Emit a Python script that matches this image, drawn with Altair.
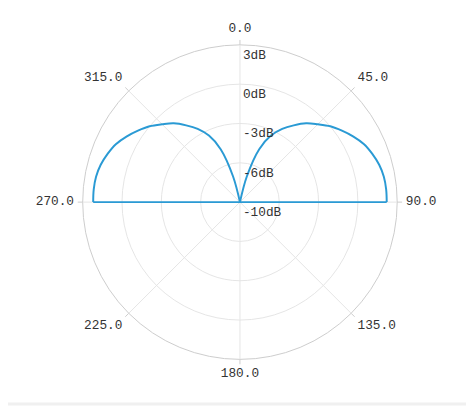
import altair as alt
import pandas as pd

# Radiation pattern (angle in degrees, gain in dB; -10 dB = centre of plot)
angle_deg = [12, 15, 20, 25, 30, 35, 40, 45, 50, 55, 60, 65, 70, 75, 80, 85, 90,
             180,
             270, 275, 280, 285, 290, 295, 300, 305, 310, 315, 320, 325, 330, 335, 340, 345,
             348]
gain_db = [-10, -7.3, -4.7, -3.4, -2.55, -1.85, -1.15, -0.6, 0.0, 0.5,
           1.0, 1.45, 1.75, 2.0, 2.15, 2.2, 2.2,
           -10,
           2.2, 2.2, 2.15, 2.0, 1.75, 1.45, 1.0, 0.5, 0.0, -0.6, -1.15, -1.85, -2.55,
           -3.4, -4.7, -7.3,
           -10]

ring_db = [-10, -6, -3, 0, 3]
ring_labels = ["-10dB", "-6dB", "-3dB", "0dB", "3dB"]
spoke_deg = [0, 45, 90, 135, 180, 225, 270, 315]
spoke_labels = ["0.0", "45.0", "90.0", "135.0", "180.0", "225.0", "270.0", "315.0"]

LEVEL = "(datum.db <= -6 ? max(datum.db + 10, 0) / 4 : (datum.db + 6) / 3 + 1)"
FONT = "Liberation Mono"
TXT = "#333333"
GRID = "#e4e4e4"
AXIS = "#cccccc"
LINE = "#2a9ad4"

dom = alt.Scale(domain=[-4, 4], nice=False, zero=False)


def X(f):
    return alt.X(f, type="quantitative", scale=dom, axis=None)


def Y(f):
    return alt.Y(f, type="quantitative", scale=dom, axis=None)


band = alt.Chart(pd.DataFrame({"k": [0]})).mark_rect(color="#f0f0f0").encode(
    x=alt.value(-76), x2=alt.value(390), y=alt.value(364), y2=alt.value(367)
)

ring_df = pd.DataFrame({"db": ring_db[1:]})
rings = (
    alt.Chart(ring_df)
    .transform_calculate(lvl=LEVEL)
    .transform_calculate(zero="0", area="pow(2 * datum.lvl * 40, 2)")
    .mark_point(shape="circle", filled=False, strokeWidth=1, opacity=1)
    .encode(
        x=X("zero"),
        y=Y("zero"),
        size=alt.Size("area:Q", scale=None, legend=None),
        stroke=alt.condition("datum.lvl >= 4", alt.value(AXIS), alt.value(GRID)),
    )
)

spoke_df = pd.DataFrame({"angle": spoke_deg, "label": spoke_labels})
spokes = (
    alt.Chart(spoke_df)
    .transform_calculate(
        zero="0",
        ex="4 * sin(datum.angle * PI / 180)",
        ey="4 * cos(datum.angle * PI / 180)",
    )
    .mark_rule(color=GRID, strokeWidth=1)
    .encode(x=X("zero"), y=Y("zero"), x2=alt.X2("ex:Q"), y2=alt.Y2("ey:Q"))
)

ticks = (
    alt.Chart(spoke_df)
    .transform_calculate(
        ax="4 * sin(datum.angle * PI / 180)",
        ay="4 * cos(datum.angle * PI / 180)",
        bx="4.125 * sin(datum.angle * PI / 180)",
        by="4.125 * cos(datum.angle * PI / 180)",
    )
    .mark_rule(color=AXIS, strokeWidth=1)
    .encode(x=X("ax"), y=Y("ay"), x2=alt.X2("bx:Q"), y2=alt.Y2("by:Q"))
)

curve_df = pd.DataFrame({"i": list(range(len(angle_deg))), "angle": angle_deg, "db": gain_db})
curve_base = (
    alt.Chart(curve_df)
    .transform_calculate(lvl=LEVEL)
    .transform_calculate(
        px="datum.lvl * sin(datum.angle * PI / 180)",
        py="datum.lvl * cos(datum.angle * PI / 180)",
        lobe="datum.angle <= 90 ? 'R' : (datum.angle >= 270 ? 'L' : 'C')",
    )
)
lobes = (
    curve_base.transform_filter("datum.lobe != 'C'")
    .mark_line(color=LINE, strokeWidth=2, interpolate="catmull-rom")
    .encode(x=X("px"), y=Y("py"), order=alt.Order("i:Q"), detail="lobe:N")
)
straight = (
    curve_base.transform_filter("datum.angle == 90 || datum.angle == 180 || datum.angle == 270")
    .mark_line(color=LINE, strokeWidth=2)
    .encode(x=X("px"), y=Y("py"), order=alt.Order("i:Q"))
)

angle_text = (
    alt.Chart(spoke_df)
    .transform_calculate(
        s="sin(datum.angle * PI / 180)",
        c="cos(datum.angle * PI / 180)",
    )
    .transform_calculate(
        sx="abs(datum.s) < 1e-6 ? 0 : (datum.s > 0 ? 1 : -1)",
        sy="abs(datum.c) < 1e-6 ? 0 : (datum.c > 0 ? 1 : -1)",
    )
    .transform_calculate(
        lx="4.2 * datum.s + datum.sx * (length(datum.label) * 0.0975 + 0.02)",
        ly="4.2 * datum.c + datum.sy * 0.19 + 0.03",
    )
    .mark_text(font=FONT, fontSize=13, color=TXT, align="center", baseline="middle")
    .encode(x=X("lx"), y=Y("ly"), text="label:N")
)

radial_df = pd.DataFrame({"db": ring_db, "label": ring_labels})
radial_text = (
    alt.Chart(radial_df)
    .transform_calculate(lvl=LEVEL, zero="0")
    .mark_text(font=FONT, fontSize=13, color=TXT, align="left", baseline="middle", dx=3, dy=10)
    .encode(x=X("zero"), y=Y("lvl"), text="label:N")
)

chart = (
    alt.layer(band, rings, spokes, ticks, straight, lobes, angle_text, radial_text)
    .properties(
        width=320,
        height=320,
        padding={"left": 76, "top": 34, "right": 70, "bottom": 47},
        autosize=alt.AutoSizeParams(type="none"),
    )
    .configure_view(strokeWidth=0)
)

chart.save("out.html", embed_options={"renderer": "svg", "actions": False})
